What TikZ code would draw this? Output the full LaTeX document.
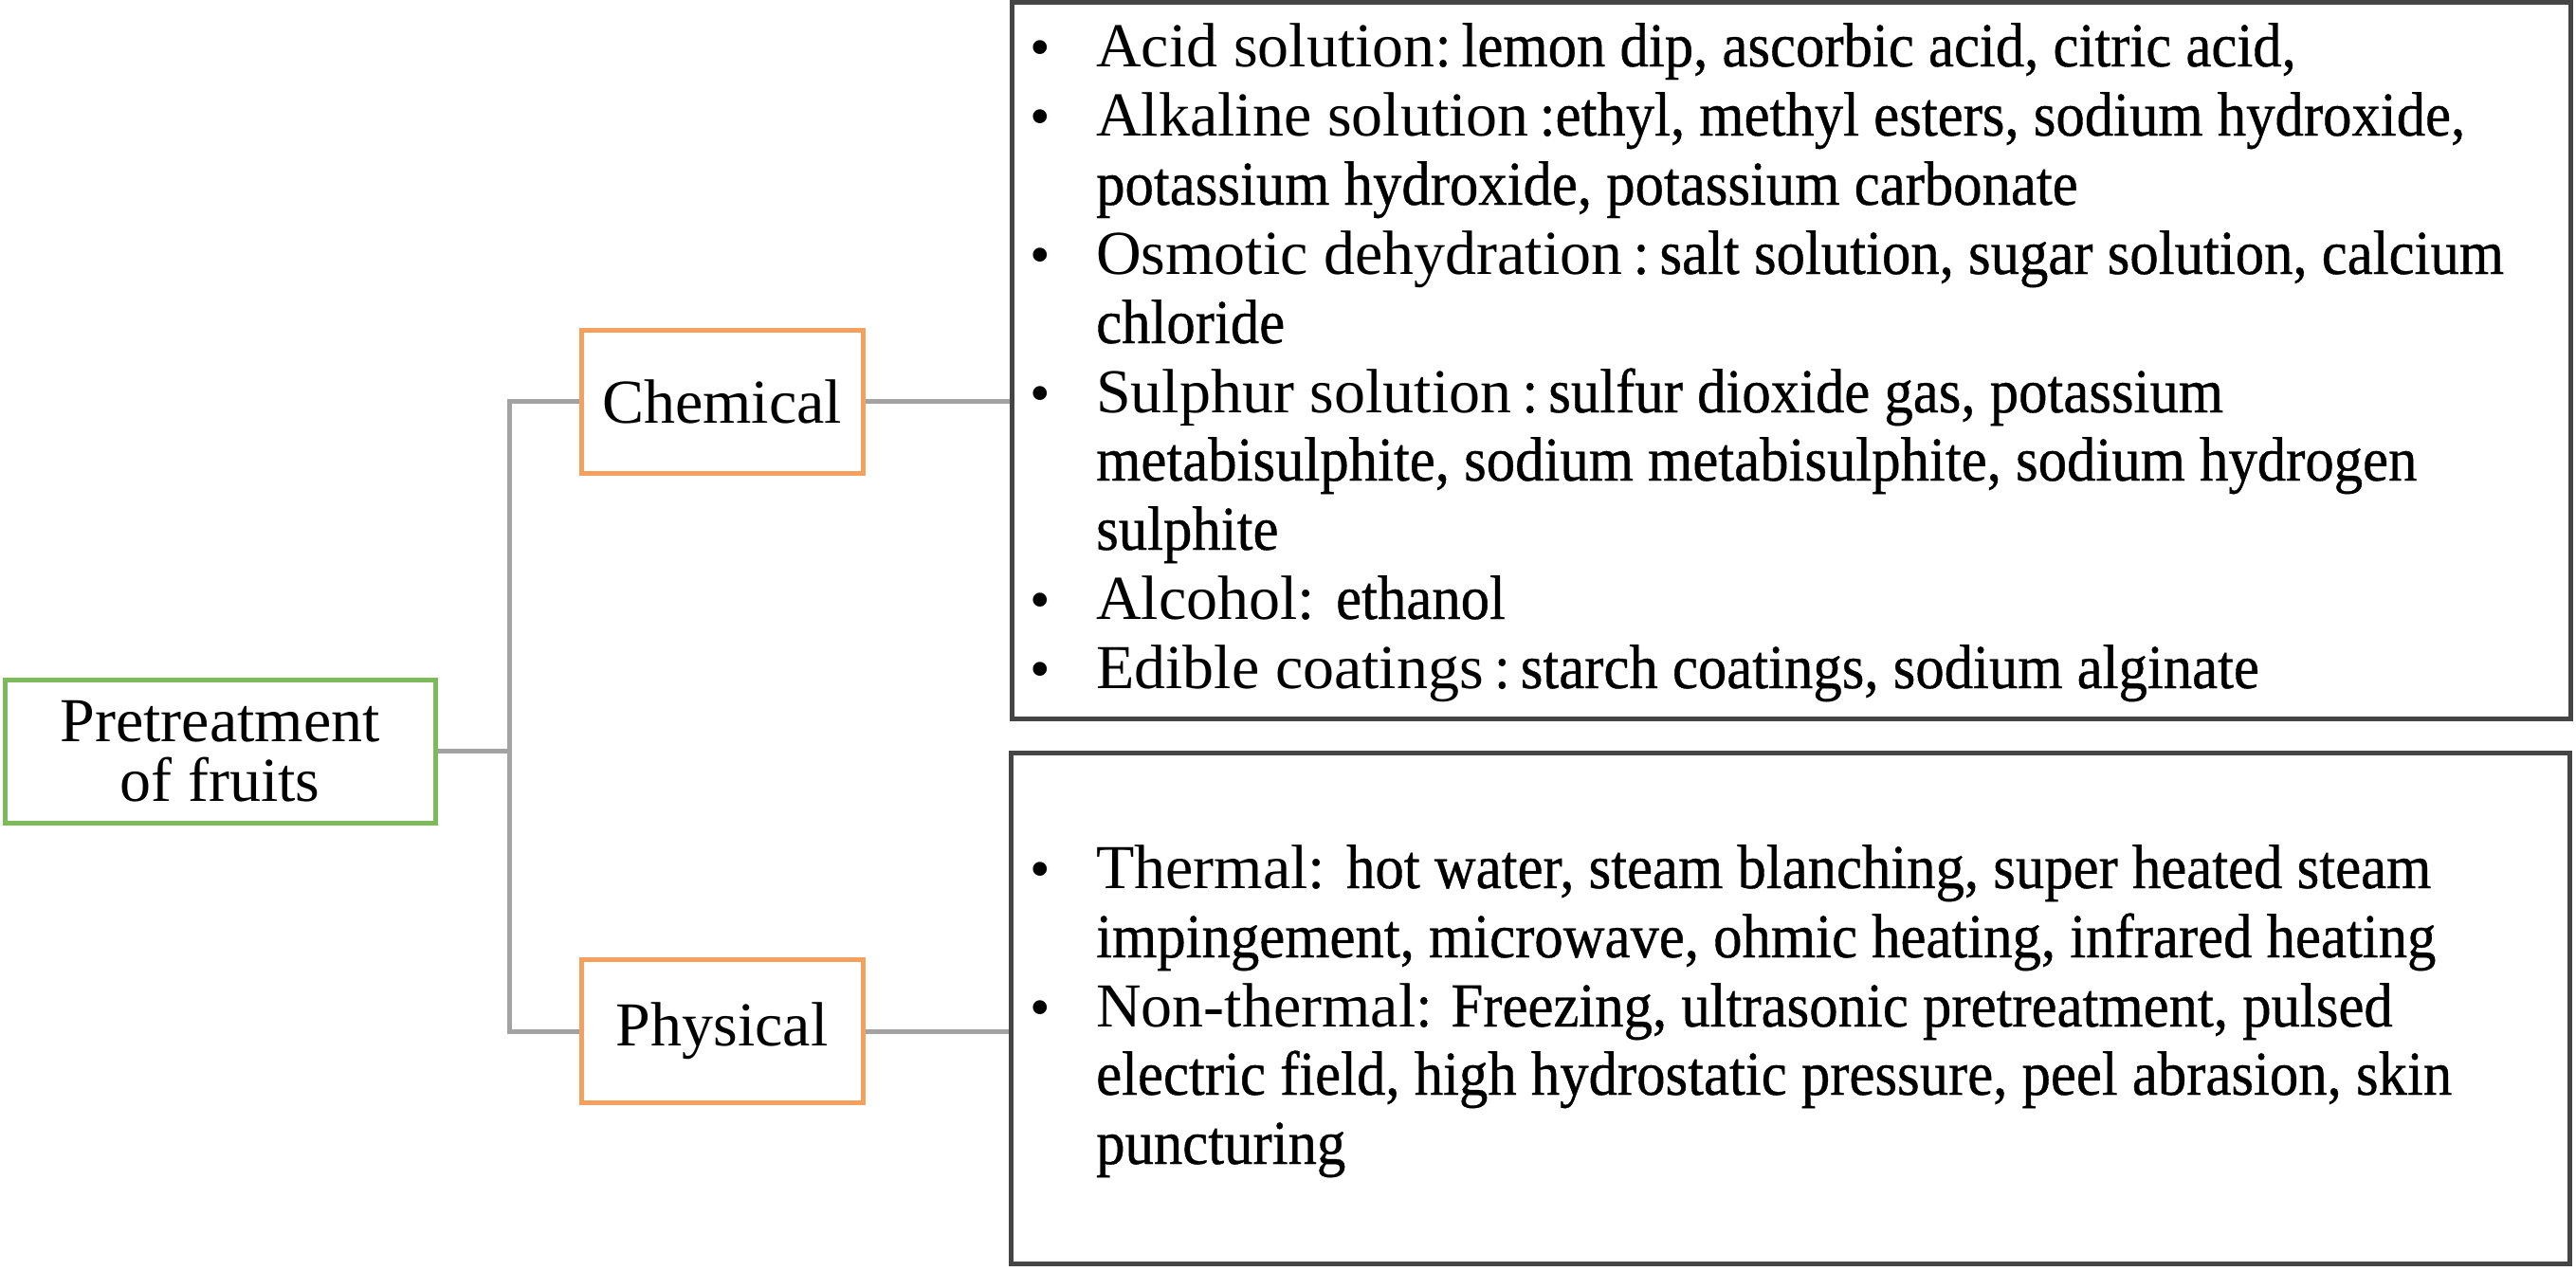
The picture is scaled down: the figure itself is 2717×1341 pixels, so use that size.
\documentclass[tikz,border=0pt]{standalone}
\usepackage{fontspec}
\setmainfont{Liberation Serif}
\newfontfamily\valfont{Liberation Serif}[FakeStretch=0.92,FakeBold=0.6]
\definecolor{conngrey}{HTML}{A3A3A3}
\definecolor{boxgrey}{HTML}{454545}
\definecolor{greenb}{HTML}{7CBA5A}
\definecolor{orangeb}{HTML}{F4A160}
\newcommand{\lbl}[1]{{\rmfamily\fontsize{66}{73}\selectfont #1}}
\begin{document}
\begin{tikzpicture}[x=1pt,y=-1pt,
  conn/.style={draw=conngrey, line width=5pt},
  rootbox/.style={draw=greenb, line width=5pt, inner sep=0pt, minimum width=454pt, minimum height=151pt, align=center, font=\fontsize{66}{63}\selectfont},
  catbox/.style={draw=orangeb, line width=5pt, inner sep=0pt, minimum width=297pt, minimum height=151pt, font=\fontsize{66}{66}\selectfont},
  listbox/.style={draw=boxgrey, line width=5pt, inner sep=0pt, minimum width=1644pt},
  itemtext/.style={anchor=base west, inner sep=0pt, font=\valfont\fontsize{66}{73}\selectfont},
  bul/.style={anchor=base, inner sep=0pt, font=\fontsize{61.5}{73}\selectfont}
]
\useasboundingbox (0,0) rectangle (2717,1341);

\node[rootbox] (root) at (232,792.5) {Pretreatment\\of fruits};
\node[catbox] (chem) at (761.5,423.5) {Chemical};
\node[catbox] (phys) at (761.5,1088) {Physical};

\node[listbox, minimum height=756pt] (top) at (1889,380.5) {};
\node[listbox, minimum height=539pt] (bot) at (1888,1064) {};

\coordinate (j) at (537,792.5);
\draw[conn] (root.east) -- (j);
\draw[conn] (chem.west) -| (j) |- (phys.west);
\draw[conn] (chem.east) -- (chem.east -| top.west);
\draw[conn] (phys.east) -- (phys.east -| bot.west);

% chemical list
\node[bul] (b1) at (1097,70) {•};
\node[itemtext] (t1) at (1156,70) {\lbl{Acid solution}:\,lemon dip, ascorbic acid, citric acid,};
\node[bul] (b2) at (1097,143) {•};
\node[itemtext] (t2) at (1156,143) {\lbl{Alkaline solution}\,:ethyl, methyl esters, sodium hydroxide,};
\node[itemtext] (t3) at (1156,216) {potassium hydroxide, potassium carbonate};
\node[bul] (b4) at (1097,289) {•};
\node[itemtext] (t4) at (1156,289) {\lbl{Osmotic dehydration}\,:\,salt solution, sugar solution, calcium};
\node[itemtext] (t5) at (1156,362) {chloride};
\node[bul] (b6) at (1097,435) {•};
\node[itemtext] (t6) at (1156,435) {\lbl{Sulphur solution}\,:\,sulfur dioxide gas, potassium};
\node[itemtext] (t7) at (1156,507) {metabisulphite, sodium metabisulphite, sodium hydrogen};
\node[itemtext] (t8) at (1156,580) {sulphite};
\node[bul] (b9) at (1097,653) {•};
\node[itemtext] (t9) at (1156,653) {\lbl{Alcohol:}\hspace{22pt}ethanol};
\node[bul] (b10) at (1097,726) {•};
\node[itemtext] (t10) at (1156,726) {\lbl{Edible coatings}\,:\,starch coatings, sodium alginate};

% physical list
\node[bul] (p1b) at (1097,937) {•};
\node[itemtext] (p1) at (1156,937) {\lbl{Thermal:}\hspace{22pt}hot water, steam blanching, super heated steam};
\node[itemtext] (p2) at (1156,1010) {impingement, microwave, ohmic heating, infrared heating};
\node[bul] (p3b) at (1097,1083) {•};
\node[itemtext] (p3) at (1156,1083) {\lbl{Non-thermal}: Freezing, ultrasonic pretreatment, pulsed};
\node[itemtext] (p4) at (1156,1155) {electric field, high hydrostatic pressure, peel abrasion, skin};
\node[itemtext] (p5) at (1156,1228) {puncturing};
\end{tikzpicture}
\end{document}
